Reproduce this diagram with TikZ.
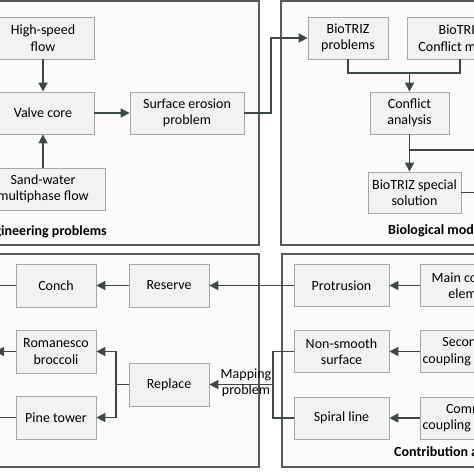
\documentclass[tikz,border=0pt]{standalone}
\usepackage{fontspec}
\setmainfont{Carlito}
\usetikzlibrary{arrows.meta}
\definecolor{boxfill}{HTML}{F2F2F2}
\definecolor{boxline}{HTML}{A6A6A6}
\definecolor{connc}{HTML}{3F4848}
\definecolor{panelline}{HTML}{595959}
\definecolor{panelfill}{HTML}{FBFBFB}
\begin{document}
\begin{tikzpicture}[x=1pt,y=-1pt,
  box/.style={draw=boxline, fill=boxfill, line width=0.8pt, inner sep=0pt, align=center,
    font=\fontsize{14}{16.5}\selectfont},
  conn/.style={draw=connc, line width=1.6pt},
  arr/.style={conn, -{Triangle[length=9pt,width=9pt]}},
  panel/.style={draw=panelline, line width=1.8pt, fill=panelfill},
  paneltitle/.style={font=\fontsize{14}{16.5}\selectfont\bfseries, inner sep=0pt},
  lbl/.style={font=\fontsize{14}{16}\selectfont, inner sep=0pt, align=center}]
\useasboundingbox (0,0) rectangle (474,474);
\clip (0,0) rectangle (474,474);
\fill[white] (0,0) rectangle (474,474);
% panels
\draw[panel] (-10,1) rectangle (259,245);
\draw[panel] (281,1) rectangle (490,245);
\draw[panel] (-10,254) rectangle (259,467);
\draw[panel] (282,254) rectangle (490,467);
% engineering problems
\node[box, minimum width=102pt, minimum height=42pt] (hs) at (43,38) {High-speed\\flow};
\node[box, minimum width=102pt, minimum height=42pt] (vc) at (43,113) {Valve core};
\node[box, minimum width=124pt, minimum height=42pt] (sw) at (43,189) {Sand-water\\multiphase flow};
\node[box, minimum width=114pt, minimum height=42pt] (se) at (187,113) {Surface erosion\\problem};
\node[paneltitle, anchor=east] (l1) at (107,232) {Engineering problems};
% biological model
\node[box, minimum width=80pt, minimum height=42pt] (bp) at (348,38) {BioTRIZ\\problems};
\node[box, minimum width=106pt, minimum height=42pt] (bcm) at (460,38) {BioTRIZ\\Conflict matrix};
\node[box, minimum width=79pt, minimum height=42pt] (ca) at (409.5,113) {Conflict\\analysis};
\node[box, minimum width=93pt, minimum height=41pt] (bss) at (414.5,192.5) {BioTRIZ special\\solution};
\node[paneltitle, anchor=west] (l2) at (388,231) {Biological model};
% bottom left
\node[box, minimum width=80pt, minimum height=43pt] (conch) at (56,285.5) {Conch};
\node[box, minimum width=80pt, minimum height=43pt] (reserve) at (169,285.5) {Reserve};
\node[box, minimum width=80pt, minimum height=43pt] (rb) at (56,351.5) {Romanesco\\broccoli};
\node[box, minimum width=80pt, minimum height=43pt] (pt) at (56,417.5) {Pine tower};
\node[box, minimum width=80pt, minimum height=43pt] (replace) at (169,384.5) {Replace};
% bottom right
\node[box, minimum width=95pt, minimum height=42pt] (prot) at (341.5,285.5) {Protrusion};
\node[box, minimum width=95pt, minimum height=42pt] (nss) at (341.5,351.5) {Non-smooth\\surface};
\node[box, minimum width=95pt, minimum height=42pt] (sl) at (341.5,418) {Spiral line};
\node[box, minimum width=104pt, minimum height=42pt] (mce) at (472,285.5) {Main coupling\\element};
\node[box, minimum width=104pt, minimum height=42pt] (sce) at (472,351.5) {Secondary\\coupling element};
\node[box, minimum width=104pt, minimum height=42pt] (cce) at (472,418) {Common\\coupling element};
\node[paneltitle, anchor=west] (l3) at (394,453) {Contribution analysis};
% connectors top-left
\draw[arr] (hs.south) -- (vc.north);
\draw[arr] (sw.north) -- (vc.south);
\draw[arr] (vc.east) -- (se.west);
\coordinate (tj) at (271,113);
\draw[arr] (se.east) -- (tj) |- (bp.west);
% connectors top-right
\coordinate (mg) at (409.5,73);
\draw[conn] (bp.south) |- (mg) -| (bcm.south);
\draw[arr] (mg) -- (ca.north);
\draw[arr] (ca.south) -- (ca.south |- bss.north);
\coordinate (br) at (409.5,150);
\coordinate (brr) at (480,150);
\draw[conn] (br) -- (brr);
\coordinate (bsr) at (480,193);
\draw[conn] (bss.east) -- (bss.east -| bsr);
% bottom-left
\draw[arr] (reserve.west) -- (conch.east);
\coordinate (cl) at (-5,285.5);
\draw[conn] (conch.west) -- (cl);
\coordinate (rbl) at (-5,351.5);
\draw[arr] (rb.west) -- (rbl);
\coordinate (ptl) at (-5,417.5);
\draw[conn] (pt.west) -- (ptl);
\coordinate (rj) at (116,384.5);
\draw[arr] (replace.west) -- (rj) |- (rb.east);
\draw[arr] (rj) |- (pt.east);
% bottom-right
\draw[arr] (prot.west) -- (reserve.east);
\draw[arr] (mce.west) -- (prot.east);
\draw[arr] (sce.west) -- (nss.east);
\draw[arr] (cce.west) -- (sl.east);
\coordinate (mj) at (273,384.5);
\draw[conn] (nss.west) -- (nss.west -| mj) -- (sl.west -| mj) -- (sl.west);
\draw[arr] (mj) -- (replace.east);
\node[lbl] (map) at (246,383) {Mapping\\problem};
\end{tikzpicture}
\end{document}
